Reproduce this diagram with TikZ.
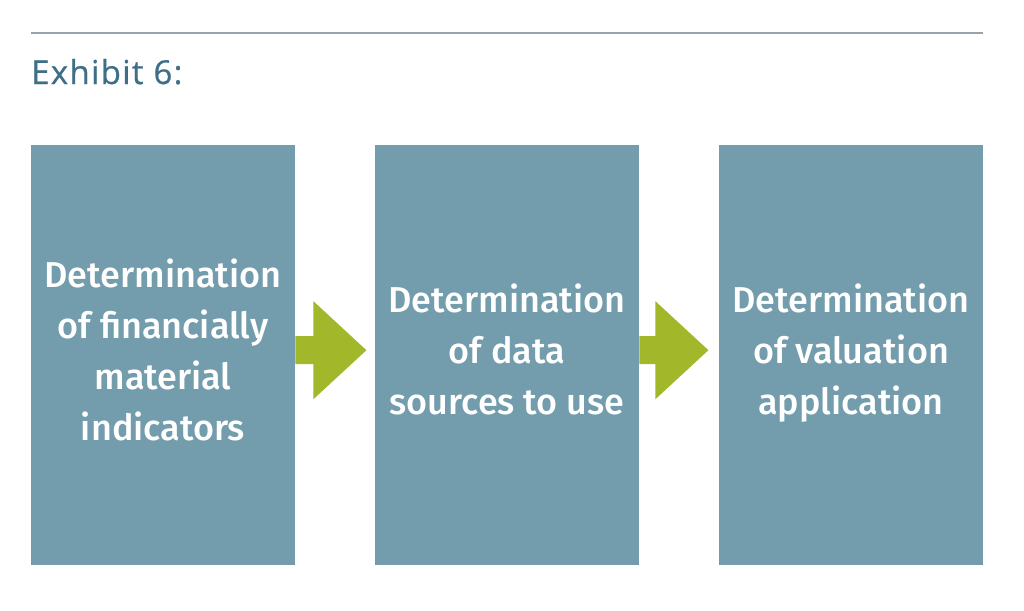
\documentclass[tikz,border=0pt]{standalone}
\usepackage{fontspec}
\setmainfont{Fira Sans}
\newfontfamily\boxfont{Fira Sans Medium}
\newfontfamily\titlefont[LetterSpace=4, FakeBold=0.6]{Open Sans}
\definecolor{boxblue}{HTML}{739DAC}
\definecolor{arrowgreen}{HTML}{A2B82A}
\definecolor{titleblue}{HTML}{3F6E87}
\definecolor{rulegrey}{HTML}{9AA3AB}
\begin{document}
\begin{tikzpicture}[x=1pt,y=-1pt,
  stepbox/.style={fill=boxblue, draw=none, minimum width=264pt, minimum height=420pt, anchor=north west, inner sep=0pt},
  steptext/.style={text=white, align=center, anchor=base, inner sep=0pt, font=\boxfont\fontsize{36}{51}\selectfont},
  flowarrow/.style={fill=arrowgreen, draw=none}]
\useasboundingbox (0,0) rectangle (1024,610);
\fill[white] (0,0) rectangle (1024,610);
\coordinate (ruleL) at (31,33);
\coordinate (ruleR) at (983,33);
\draw[rulegrey, line width=1.5pt] (ruleL) -- (ruleR);
\node[anchor=base west, inner sep=0pt, text=titleblue, font=\titlefont\fontsize{33}{38}\selectfont] (title) at (31,84) {Exhibit 6:};
\node[stepbox] (b1) at (31,145) {};
\node[stepbox] (b2) at (375,145) {};
\node[stepbox] (b3) at (719,145) {};
\node[steptext] (t1) at (163,440) {Determination\\of financially\\material\\indicators};
\node[steptext] (t2) at (507,414.5) {Determination\\of data\\sources to use};
\node[steptext] (t3) at (851,414.5) {Determination\\of valuation\\application};
\fill[flowarrow] (b1.east) ++(0,-19) -- ++(18,0) -- ++(0,-35) -- ++(53,49) -- ++(-53,49) -- ++(0,-35) -- ++(-18,0) -- cycle;
\fill[flowarrow] (b2.east) ++(0,-19) -- ++(16,0) -- ++(0,-35) -- ++(53,49) -- ++(-53,49) -- ++(0,-35) -- ++(-16,0) -- cycle;
\end{tikzpicture}
\end{document}
